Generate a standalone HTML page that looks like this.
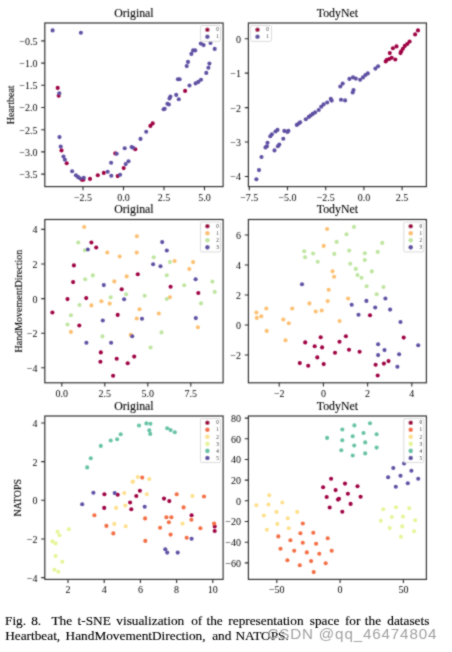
<!DOCTYPE html><html><head><meta charset="utf-8"><style>html,body{margin:0;padding:0;background:#fff;width:452px;height:652px;overflow:hidden}svg{display:block}.s{font-family:"Liberation Serif",serif;fill:#000;stroke:none}.w{font-family:"Liberation Sans",sans-serif}.c{font-family:"Liberation Serif",serif;fill:#000;stroke:#000;stroke-width:0.15px}.t{stroke:#000;stroke-width:0.12px}</style></head><body><svg width="452" height="652" viewBox="0 0 452 652"><defs><filter id="bl" x="-5%" y="-5%" width="110%" height="110%"><feConvolveMatrix order="3" kernelMatrix="1 2 1 2 10 2 1 2 1" divisor="22" edgeMode="none" preserveAlpha="false"/></filter><filter id="bl2" x="-5%" y="-5%" width="110%" height="110%"><feConvolveMatrix order="3" kernelMatrix="1 2 1 2 14 2 1 2 1" divisor="26" edgeMode="none" preserveAlpha="false"/></filter></defs><rect width="452" height="652" fill="#fff"/><g filter="url(#bl)"><g><g fill="#9e0142"><circle cx="57.7" cy="87.9" r="2.05"/><circle cx="58.7" cy="95.7" r="2.05"/><circle cx="61.5" cy="150.4" r="2.05"/><circle cx="66.7" cy="163.3" r="2.05"/><circle cx="81.8" cy="179.7" r="2.05"/><circle cx="83.4" cy="179.7" r="2.05"/><circle cx="90.0" cy="178.9" r="2.05"/><circle cx="97.8" cy="175.3" r="2.05"/><circle cx="103.8" cy="172.9" r="2.05"/><circle cx="115.3" cy="153.4" r="2.05"/><circle cx="117.7" cy="176.1" r="2.05"/><circle cx="123.7" cy="168.1" r="2.05"/><circle cx="135.3" cy="149.2" r="2.05"/><circle cx="150.4" cy="125.9" r="2.05"/><circle cx="152.7" cy="123.4" r="2.05"/><circle cx="185.1" cy="90.9" r="2.05"/></g><g fill="#5e4fa2"><circle cx="52.6" cy="30.4" r="2.05"/><circle cx="80.9" cy="32.8" r="2.05"/><circle cx="59.3" cy="93.3" r="2.05"/><circle cx="59.5" cy="137.1" r="2.05"/><circle cx="60.7" cy="146.6" r="2.05"/><circle cx="63.5" cy="156.6" r="2.05"/><circle cx="64.9" cy="159.8" r="2.05"/><circle cx="72.1" cy="171.3" r="2.05"/><circle cx="75.9" cy="175.3" r="2.05"/><circle cx="77.9" cy="176.9" r="2.05"/><circle cx="79.9" cy="178.3" r="2.05"/><circle cx="83.8" cy="177.7" r="2.05"/><circle cx="107.7" cy="171.7" r="2.05"/><circle cx="111.3" cy="175.7" r="2.05"/><circle cx="111.1" cy="162.7" r="2.05"/><circle cx="116.7" cy="153.8" r="2.05"/><circle cx="120.1" cy="174.7" r="2.05"/><circle cx="125.7" cy="164.1" r="2.05"/><circle cx="128.5" cy="161.2" r="2.05"/><circle cx="124.7" cy="148.2" r="2.05"/><circle cx="131.6" cy="147.0" r="2.05"/><circle cx="133.2" cy="147.8" r="2.05"/><circle cx="140.5" cy="138.9" r="2.05"/><circle cx="146.2" cy="131.8" r="2.05"/><circle cx="163.6" cy="109.3" r="2.05"/><circle cx="164.7" cy="108.7" r="2.05"/><circle cx="167.4" cy="103.8" r="2.05"/><circle cx="168.9" cy="104.5" r="2.05"/><circle cx="169.5" cy="98.5" r="2.05"/><circle cx="170.4" cy="96.6" r="2.05"/><circle cx="176.2" cy="94.9" r="2.05"/><circle cx="178.8" cy="99.3" r="2.05"/><circle cx="189.5" cy="85.5" r="2.05"/><circle cx="195.6" cy="83.4" r="2.05"/><circle cx="198.3" cy="81.9" r="2.05"/><circle cx="201.0" cy="79.8" r="2.05"/><circle cx="177.9" cy="79.2" r="2.05"/><circle cx="179.6" cy="79.2" r="2.05"/><circle cx="206.3" cy="72.9" r="2.05"/><circle cx="208.4" cy="67.8" r="2.05"/><circle cx="209.4" cy="63.6" r="2.05"/><circle cx="186.7" cy="66.1" r="2.05"/><circle cx="188.0" cy="61.9" r="2.05"/><circle cx="191.4" cy="53.9" r="2.05"/><circle cx="193.1" cy="50.4" r="2.05"/><circle cx="195.2" cy="50.4" r="2.05"/><circle cx="200.8" cy="43.6" r="2.05"/><circle cx="203.6" cy="45.1" r="2.05"/><circle cx="210.5" cy="43.0" r="2.05"/><circle cx="214.7" cy="48.9" r="2.05"/></g><rect x="44.80" y="23.00" width="178.30" height="163.60" fill="none" stroke="#2a2a2a" stroke-width="1.15"/><path d="M83.00 186.60v3.6M123.50 186.60v3.6M164.00 186.60v3.6M204.50 186.60v3.6M44.80 40.90h-3.6M44.80 63.10h-3.6M44.80 85.30h-3.6M44.80 107.50h-3.6M44.80 129.70h-3.6M44.80 151.90h-3.6M44.80 174.10h-3.6" stroke="#2a2a2a" stroke-width="1.1" fill="none"/><text class="s" x="83.00" y="200.50" font-size="10.0" text-anchor="middle">−2.5</text><text class="s" x="123.50" y="200.50" font-size="10.0" text-anchor="middle">0.0</text><text class="s" x="164.00" y="200.50" font-size="10.0" text-anchor="middle">2.5</text><text class="s" x="204.50" y="200.50" font-size="10.0" text-anchor="middle">5.0</text><text class="s" x="37.40" y="44.80" font-size="10.0" text-anchor="end">−0.5</text><text class="s" x="37.40" y="67.00" font-size="10.0" text-anchor="end">−1.0</text><text class="s" x="37.40" y="89.20" font-size="10.0" text-anchor="end">−1.5</text><text class="s" x="37.40" y="111.40" font-size="10.0" text-anchor="end">−2.0</text><text class="s" x="37.40" y="133.60" font-size="10.0" text-anchor="end">−2.5</text><text class="s" x="37.40" y="155.80" font-size="10.0" text-anchor="end">−3.0</text><text class="s" x="37.40" y="178.00" font-size="10.0" text-anchor="end">−3.5</text><text class="s t" x="133.95" y="16.80" font-size="11.8" text-anchor="middle">Original</text><text class="s t" transform="translate(14.20 104.80) rotate(-90)" font-size="10" text-anchor="middle">Heartbeat</text><rect x="200.50" y="25.50" width="20.00" height="15.85" rx="1.2" fill="#fff" fill-opacity="0.8" stroke="#d0d0d0" stroke-width="0.8"/><circle cx="207.40" cy="29.70" r="2.30" fill="#9e0142"/><text class="s" x="217.50" y="31.40" font-size="5.2" text-anchor="middle" style="stroke-width:0.1px">0</text><circle cx="207.40" cy="36.75" r="2.30" fill="#5e4fa2"/><text class="s" x="217.50" y="38.45" font-size="5.2" text-anchor="middle" style="stroke-width:0.1px">1</text></g><g><g fill="#9e0142"><circle cx="418.0" cy="30.4" r="2.05"/><circle cx="415.1" cy="34.4" r="2.05"/><circle cx="409.6" cy="41.6" r="2.05"/><circle cx="407.2" cy="44.0" r="2.05"/><circle cx="404.8" cy="45.9" r="2.05"/><circle cx="402.9" cy="48.8" r="2.05"/><circle cx="401.2" cy="51.2" r="2.05"/><circle cx="400.5" cy="53.1" r="2.05"/><circle cx="396.5" cy="46.4" r="2.05"/><circle cx="392.9" cy="48.3" r="2.05"/><circle cx="389.8" cy="53.1" r="2.05"/><circle cx="386.9" cy="59.8" r="2.05"/><circle cx="385.7" cy="61.4" r="2.05"/><circle cx="389.3" cy="59.0" r="2.05"/><circle cx="391.7" cy="57.8" r="2.05"/><circle cx="395.3" cy="59.5" r="2.05"/></g><g fill="#5e4fa2"><circle cx="378.1" cy="66.2" r="2.05"/><circle cx="375.4" cy="68.6" r="2.05"/><circle cx="367.8" cy="73.4" r="2.05"/><circle cx="365.4" cy="75.0" r="2.05"/><circle cx="363.0" cy="77.4" r="2.05"/><circle cx="360.1" cy="79.8" r="2.05"/><circle cx="355.8" cy="78.6" r="2.05"/><circle cx="353.0" cy="77.4" r="2.05"/><circle cx="349.4" cy="78.9" r="2.05"/><circle cx="342.7" cy="83.6" r="2.05"/><circle cx="340.3" cy="86.5" r="2.05"/><circle cx="353.5" cy="90.1" r="2.05"/><circle cx="352.7" cy="92.5" r="2.05"/><circle cx="345.1" cy="100.4" r="2.05"/><circle cx="341.0" cy="99.7" r="2.05"/><circle cx="330.8" cy="98.9" r="2.05"/><circle cx="327.2" cy="102.5" r="2.05"/><circle cx="323.6" cy="104.4" r="2.05"/><circle cx="321.2" cy="106.8" r="2.05"/><circle cx="318.7" cy="110.0" r="2.05"/><circle cx="315.1" cy="112.4" r="2.05"/><circle cx="312.7" cy="113.9" r="2.05"/><circle cx="310.7" cy="115.5" r="2.05"/><circle cx="308.8" cy="116.9" r="2.05"/><circle cx="305.8" cy="119.3" r="2.05"/><circle cx="300.2" cy="122.3" r="2.05"/><circle cx="298.8" cy="123.5" r="2.05"/><circle cx="296.8" cy="124.9" r="2.05"/><circle cx="288.4" cy="130.9" r="2.05"/><circle cx="287.4" cy="131.9" r="2.05"/><circle cx="284.3" cy="130.9" r="2.05"/><circle cx="283.3" cy="138.8" r="2.05"/><circle cx="279.3" cy="144.6" r="2.05"/><circle cx="277.9" cy="146.2" r="2.05"/><circle cx="274.5" cy="150.4" r="2.05"/><circle cx="277.5" cy="129.9" r="2.05"/><circle cx="275.5" cy="131.5" r="2.05"/><circle cx="271.9" cy="134.3" r="2.05"/><circle cx="270.3" cy="136.3" r="2.05"/><circle cx="267.5" cy="142.8" r="2.05"/><circle cx="266.9" cy="146.2" r="2.05"/><circle cx="265.5" cy="147.4" r="2.05"/><circle cx="261.5" cy="157.0" r="2.05"/><circle cx="259.0" cy="170.1" r="2.05"/><circle cx="256.4" cy="179.3" r="2.05"/><circle cx="331.7" cy="100.6" r="2.05"/></g><rect x="248.40" y="23.00" width="178.00" height="163.60" fill="none" stroke="#2a2a2a" stroke-width="1.15"/><path d="M249.30 186.60v3.6M287.50 186.60v3.6M325.70 186.60v3.6M363.90 186.60v3.6M402.10 186.60v3.6M248.40 38.70h-3.6M248.40 73.15h-3.6M248.40 107.60h-3.6M248.40 142.05h-3.6M248.40 176.50h-3.6" stroke="#2a2a2a" stroke-width="1.1" fill="none"/><text class="s" x="249.30" y="200.50" font-size="10.0" text-anchor="middle">−7.5</text><text class="s" x="287.50" y="200.50" font-size="10.0" text-anchor="middle">−5.0</text><text class="s" x="325.70" y="200.50" font-size="10.0" text-anchor="middle">−2.5</text><text class="s" x="363.90" y="200.50" font-size="10.0" text-anchor="middle">0.0</text><text class="s" x="402.10" y="200.50" font-size="10.0" text-anchor="middle">2.5</text><text class="s" x="241.00" y="42.60" font-size="10.0" text-anchor="end">0</text><text class="s" x="241.00" y="77.05" font-size="10.0" text-anchor="end">−1</text><text class="s" x="241.00" y="111.50" font-size="10.0" text-anchor="end">−2</text><text class="s" x="241.00" y="145.95" font-size="10.0" text-anchor="end">−3</text><text class="s" x="241.00" y="180.40" font-size="10.0" text-anchor="end">−4</text><text class="s t" x="337.40" y="16.80" font-size="11.8" text-anchor="middle">TodyNet</text><rect x="250.60" y="25.50" width="20.90" height="15.85" rx="1.2" fill="#fff" fill-opacity="0.8" stroke="#d0d0d0" stroke-width="0.8"/><circle cx="257.50" cy="29.70" r="2.30" fill="#9e0142"/><text class="s" x="267.60" y="31.40" font-size="5.2" text-anchor="middle" style="stroke-width:0.1px">0</text><circle cx="257.50" cy="36.75" r="2.30" fill="#5e4fa2"/><text class="s" x="267.60" y="38.45" font-size="5.2" text-anchor="middle" style="stroke-width:0.1px">1</text></g><g><g fill="#9e0142"><circle cx="91.4" cy="242.5" r="2.05"/><circle cx="96.2" cy="247.5" r="2.05"/><circle cx="73.9" cy="265.4" r="2.05"/><circle cx="73.1" cy="282.1" r="2.05"/><circle cx="121.7" cy="289.3" r="2.05"/><circle cx="67.5" cy="299.1" r="2.05"/><circle cx="86.2" cy="298.1" r="2.05"/><circle cx="52.4" cy="312.5" r="2.05"/><circle cx="117.7" cy="314.9" r="2.05"/><circle cx="79.3" cy="325.5" r="2.05"/><circle cx="100.8" cy="352.4" r="2.05"/><circle cx="100.4" cy="361.7" r="2.05"/><circle cx="116.7" cy="358.7" r="2.05"/><circle cx="127.7" cy="363.3" r="2.05"/><circle cx="134.2" cy="356.6" r="2.05"/><circle cx="113.1" cy="375.7" r="2.05"/><circle cx="137.8" cy="274.3" r="2.05"/><circle cx="170.6" cy="286.7" r="2.05"/><circle cx="198.3" cy="293.0" r="2.05"/></g><g fill="#fdbf6f"><circle cx="84.2" cy="227.0" r="2.05"/><circle cx="107.3" cy="252.5" r="2.05"/><circle cx="119.7" cy="256.5" r="2.05"/><circle cx="126.7" cy="276.4" r="2.05"/><circle cx="114.3" cy="281.4" r="2.05"/><circle cx="101.4" cy="301.2" r="2.05"/><circle cx="91.4" cy="305.4" r="2.05"/><circle cx="109.7" cy="303.6" r="2.05"/><circle cx="70.9" cy="331.9" r="2.05"/><circle cx="130.7" cy="334.8" r="2.05"/><circle cx="136.9" cy="236.2" r="2.05"/><circle cx="136.7" cy="252.6" r="2.05"/><circle cx="174.6" cy="261.0" r="2.05"/><circle cx="193.1" cy="262.1" r="2.05"/><circle cx="189.3" cy="269.0" r="2.05"/><circle cx="169.9" cy="297.3" r="2.05"/><circle cx="139.5" cy="309.3" r="2.05"/><circle cx="158.8" cy="313.5" r="2.05"/><circle cx="136.7" cy="318.5" r="2.05"/><circle cx="197.9" cy="327.2" r="2.05"/><circle cx="131.0" cy="335.0" r="2.05"/></g><g fill="#bfe5a0"><circle cx="78.3" cy="242.5" r="2.05"/><circle cx="84.8" cy="250.3" r="2.05"/><circle cx="92.8" cy="275.4" r="2.05"/><circle cx="85.2" cy="279.2" r="2.05"/><circle cx="126.1" cy="294.3" r="2.05"/><circle cx="110.7" cy="297.3" r="2.05"/><circle cx="79.5" cy="305.0" r="2.05"/><circle cx="70.9" cy="315.3" r="2.05"/><circle cx="67.5" cy="324.5" r="2.05"/><circle cx="102.4" cy="336.4" r="2.05"/><circle cx="153.7" cy="257.3" r="2.05"/><circle cx="169.9" cy="262.1" r="2.05"/><circle cx="166.8" cy="275.3" r="2.05"/><circle cx="212.4" cy="281.6" r="2.05"/><circle cx="184.2" cy="285.2" r="2.05"/><circle cx="214.7" cy="291.9" r="2.05"/><circle cx="144.7" cy="295.7" r="2.05"/><circle cx="166.8" cy="299.0" r="2.05"/><circle cx="201.0" cy="303.4" r="2.05"/><circle cx="161.5" cy="332.4" r="2.05"/><circle cx="150.6" cy="347.5" r="2.05"/></g><g fill="#5e4fa2"><circle cx="87.8" cy="249.5" r="2.05"/><circle cx="103.8" cy="285.1" r="2.05"/><circle cx="124.1" cy="299.3" r="2.05"/><circle cx="102.8" cy="320.5" r="2.05"/><circle cx="132.2" cy="336.2" r="2.05"/><circle cx="86.4" cy="342.8" r="2.05"/><circle cx="111.1" cy="342.8" r="2.05"/><circle cx="162.2" cy="242.1" r="2.05"/><circle cx="166.8" cy="250.5" r="2.05"/><circle cx="153.1" cy="264.2" r="2.05"/><circle cx="160.5" cy="266.3" r="2.05"/><circle cx="195.6" cy="279.3" r="2.05"/><circle cx="142.0" cy="318.7" r="2.05"/><circle cx="195.8" cy="318.1" r="2.05"/></g><rect x="44.80" y="219.50" width="178.30" height="163.30" fill="none" stroke="#2a2a2a" stroke-width="1.15"/><path d="M61.80 382.80v3.6M104.80 382.80v3.6M147.80 382.80v3.6M190.80 382.80v3.6M44.80 229.40h-3.6M44.80 264.00h-3.6M44.80 298.60h-3.6M44.80 333.20h-3.6M44.80 367.80h-3.6" stroke="#2a2a2a" stroke-width="1.1" fill="none"/><text class="s" x="61.80" y="396.70" font-size="10.0" text-anchor="middle">0.0</text><text class="s" x="104.80" y="396.70" font-size="10.0" text-anchor="middle">2.5</text><text class="s" x="147.80" y="396.70" font-size="10.0" text-anchor="middle">5.0</text><text class="s" x="190.80" y="396.70" font-size="10.0" text-anchor="middle">7.5</text><text class="s" x="37.40" y="233.30" font-size="10.0" text-anchor="end">4</text><text class="s" x="37.40" y="267.90" font-size="10.0" text-anchor="end">2</text><text class="s" x="37.40" y="302.50" font-size="10.0" text-anchor="end">0</text><text class="s" x="37.40" y="337.10" font-size="10.0" text-anchor="end">−2</text><text class="s" x="37.40" y="371.70" font-size="10.0" text-anchor="end">−4</text><text class="s t" x="133.95" y="213.30" font-size="11.8" text-anchor="middle">Original</text><text class="s t" transform="translate(21.80 301.15) rotate(-90)" font-size="10" text-anchor="middle">HandMovementDirection</text><rect x="200.50" y="222.00" width="20.00" height="29.95" rx="1.2" fill="#fff" fill-opacity="0.8" stroke="#d0d0d0" stroke-width="0.8"/><circle cx="207.40" cy="226.20" r="2.30" fill="#9e0142"/><text class="s" x="217.50" y="227.90" font-size="5.2" text-anchor="middle" style="stroke-width:0.1px">0</text><circle cx="207.40" cy="233.25" r="2.30" fill="#fdbf6f"/><text class="s" x="217.50" y="234.95" font-size="5.2" text-anchor="middle" style="stroke-width:0.1px">1</text><circle cx="207.40" cy="240.30" r="2.30" fill="#bfe5a0"/><text class="s" x="217.50" y="242.00" font-size="5.2" text-anchor="middle" style="stroke-width:0.1px">2</text><circle cx="207.40" cy="247.35" r="2.30" fill="#5e4fa2"/><text class="s" x="217.50" y="249.05" font-size="5.2" text-anchor="middle" style="stroke-width:0.1px">3</text></g><g><g fill="#9e0142"><circle cx="320.7" cy="337.2" r="2.05"/><circle cx="305.2" cy="342.4" r="2.05"/><circle cx="314.7" cy="346.2" r="2.05"/><circle cx="322.1" cy="347.4" r="2.05"/><circle cx="339.5" cy="341.8" r="2.05"/><circle cx="335.0" cy="352.8" r="2.05"/><circle cx="317.3" cy="357.4" r="2.05"/><circle cx="299.8" cy="363.1" r="2.05"/><circle cx="308.2" cy="365.7" r="2.05"/><circle cx="323.7" cy="364.1" r="2.05"/><circle cx="370.0" cy="315.2" r="2.05"/><circle cx="345.9" cy="336.2" r="2.05"/><circle cx="403.7" cy="337.6" r="2.05"/><circle cx="349.0" cy="349.7" r="2.05"/><circle cx="359.6" cy="351.8" r="2.05"/><circle cx="388.5" cy="361.1" r="2.05"/><circle cx="383.9" cy="363.6" r="2.05"/><circle cx="375.6" cy="364.7" r="2.05"/><circle cx="377.7" cy="375.5" r="2.05"/></g><g fill="#fdbf6f"><circle cx="327.1" cy="229.0" r="2.05"/><circle cx="323.7" cy="245.9" r="2.05"/><circle cx="332.5" cy="271.2" r="2.05"/><circle cx="334.1" cy="276.8" r="2.05"/><circle cx="328.7" cy="289.7" r="2.05"/><circle cx="327.7" cy="301.1" r="2.05"/><circle cx="309.4" cy="303.4" r="2.05"/><circle cx="266.3" cy="308.5" r="2.05"/><circle cx="292.2" cy="308.5" r="2.05"/><circle cx="256.4" cy="312.5" r="2.05"/><circle cx="261.3" cy="316.3" r="2.05"/><circle cx="256.8" cy="317.9" r="2.05"/><circle cx="315.7" cy="311.5" r="2.05"/><circle cx="321.7" cy="310.5" r="2.05"/><circle cx="283.3" cy="319.5" r="2.05"/><circle cx="288.8" cy="323.3" r="2.05"/><circle cx="339.6" cy="321.0" r="2.05"/><circle cx="266.7" cy="330.9" r="2.05"/><circle cx="285.5" cy="340.2" r="2.05"/><circle cx="348.1" cy="298.5" r="2.05"/></g><g fill="#bfe5a0"><circle cx="336.6" cy="241.9" r="2.05"/><circle cx="304.2" cy="251.3" r="2.05"/><circle cx="313.1" cy="253.5" r="2.05"/><circle cx="334.3" cy="253.9" r="2.05"/><circle cx="305.0" cy="257.2" r="2.05"/><circle cx="317.7" cy="261.8" r="2.05"/><circle cx="354.0" cy="226.9" r="2.05"/><circle cx="346.5" cy="234.2" r="2.05"/><circle cx="382.2" cy="242.9" r="2.05"/><circle cx="349.2" cy="250.6" r="2.05"/><circle cx="364.8" cy="253.3" r="2.05"/><circle cx="377.7" cy="251.9" r="2.05"/><circle cx="364.8" cy="260.0" r="2.05"/><circle cx="350.2" cy="263.7" r="2.05"/><circle cx="355.8" cy="268.9" r="2.05"/><circle cx="371.8" cy="271.4" r="2.05"/><circle cx="357.5" cy="275.1" r="2.05"/><circle cx="361.5" cy="277.8" r="2.05"/><circle cx="366.6" cy="286.2" r="2.05"/><circle cx="383.5" cy="287.0" r="2.05"/><circle cx="376.6" cy="294.3" r="2.05"/></g><g fill="#5e4fa2"><circle cx="302.0" cy="284.2" r="2.05"/><circle cx="366.4" cy="300.9" r="2.05"/><circle cx="385.4" cy="298.5" r="2.05"/><circle cx="351.7" cy="304.8" r="2.05"/><circle cx="375.2" cy="307.5" r="2.05"/><circle cx="390.1" cy="309.6" r="2.05"/><circle cx="358.5" cy="314.8" r="2.05"/><circle cx="400.5" cy="322.0" r="2.05"/><circle cx="378.1" cy="344.3" r="2.05"/><circle cx="418.2" cy="345.3" r="2.05"/><circle cx="384.5" cy="350.1" r="2.05"/><circle cx="378.1" cy="355.1" r="2.05"/><circle cx="399.1" cy="354.3" r="2.05"/><circle cx="397.4" cy="366.7" r="2.05"/></g><rect x="248.40" y="219.50" width="178.00" height="163.30" fill="none" stroke="#2a2a2a" stroke-width="1.15"/><path d="M279.20 382.80v3.6M323.40 382.80v3.6M367.60 382.80v3.6M411.80 382.80v3.6M248.40 235.00h-3.6M248.40 265.00h-3.6M248.40 295.00h-3.6M248.40 325.00h-3.6M248.40 355.00h-3.6" stroke="#2a2a2a" stroke-width="1.1" fill="none"/><text class="s" x="279.20" y="396.70" font-size="10.0" text-anchor="middle">−2</text><text class="s" x="323.40" y="396.70" font-size="10.0" text-anchor="middle">0</text><text class="s" x="367.60" y="396.70" font-size="10.0" text-anchor="middle">2</text><text class="s" x="411.80" y="396.70" font-size="10.0" text-anchor="middle">4</text><text class="s" x="241.00" y="238.90" font-size="10.0" text-anchor="end">6</text><text class="s" x="241.00" y="268.90" font-size="10.0" text-anchor="end">4</text><text class="s" x="241.00" y="298.90" font-size="10.0" text-anchor="end">2</text><text class="s" x="241.00" y="328.90" font-size="10.0" text-anchor="end">0</text><text class="s" x="241.00" y="358.90" font-size="10.0" text-anchor="end">−2</text><text class="s t" x="337.40" y="213.30" font-size="11.8" text-anchor="middle">TodyNet</text><rect x="403.80" y="222.00" width="20.00" height="29.95" rx="1.2" fill="#fff" fill-opacity="0.8" stroke="#d0d0d0" stroke-width="0.8"/><circle cx="410.70" cy="226.20" r="2.30" fill="#9e0142"/><text class="s" x="420.80" y="227.90" font-size="5.2" text-anchor="middle" style="stroke-width:0.1px">0</text><circle cx="410.70" cy="233.25" r="2.30" fill="#fdbf6f"/><text class="s" x="420.80" y="234.95" font-size="5.2" text-anchor="middle" style="stroke-width:0.1px">1</text><circle cx="410.70" cy="240.30" r="2.30" fill="#bfe5a0"/><text class="s" x="420.80" y="242.00" font-size="5.2" text-anchor="middle" style="stroke-width:0.1px">2</text><circle cx="410.70" cy="247.35" r="2.30" fill="#5e4fa2"/><text class="s" x="420.80" y="249.05" font-size="5.2" text-anchor="middle" style="stroke-width:0.1px">3</text></g><g><g fill="#9e0142"><circle cx="104.4" cy="494.3" r="2.05"/><circle cx="117.7" cy="494.7" r="2.05"/><circle cx="104.2" cy="507.9" r="2.05"/><circle cx="130.1" cy="502.5" r="2.05"/><circle cx="131.3" cy="509.3" r="2.05"/><circle cx="139.9" cy="490.8" r="2.05"/><circle cx="136.3" cy="496.0" r="2.05"/><circle cx="164.0" cy="498.6" r="2.05"/><circle cx="169.3" cy="501.1" r="2.05"/><circle cx="191.6" cy="515.2" r="2.05"/><circle cx="214.7" cy="526.4" r="2.05"/><circle cx="214.7" cy="531.0" r="2.05"/></g><g fill="#f46d43"><circle cx="94.4" cy="515.3" r="2.05"/><circle cx="106.4" cy="525.9" r="2.05"/><circle cx="113.3" cy="533.4" r="2.05"/><circle cx="142.2" cy="477.6" r="2.05"/><circle cx="176.7" cy="494.2" r="2.05"/><circle cx="204.0" cy="496.5" r="2.05"/><circle cx="183.6" cy="507.4" r="2.05"/><circle cx="145.1" cy="518.4" r="2.05"/><circle cx="166.4" cy="517.3" r="2.05"/><circle cx="171.4" cy="517.3" r="2.05"/><circle cx="168.9" cy="522.2" r="2.05"/><circle cx="191.4" cy="519.8" r="2.05"/><circle cx="160.1" cy="527.8" r="2.05"/><circle cx="200.4" cy="528.3" r="2.05"/><circle cx="214.1" cy="523.6" r="2.05"/><circle cx="170.6" cy="534.6" r="2.05"/><circle cx="186.7" cy="537.7" r="2.05"/><circle cx="145.3" cy="540.9" r="2.05"/></g><g fill="#fee08b"><circle cx="132.6" cy="481.7" r="2.05"/><circle cx="124.3" cy="493.1" r="2.05"/><circle cx="116.1" cy="507.9" r="2.05"/><circle cx="125.3" cy="505.5" r="2.05"/><circle cx="114.3" cy="523.9" r="2.05"/><circle cx="125.7" cy="526.3" r="2.05"/><circle cx="137.8" cy="477.0" r="2.05"/><circle cx="132.9" cy="481.6" r="2.05"/><circle cx="149.3" cy="479.0" r="2.05"/><circle cx="146.8" cy="494.3" r="2.05"/><circle cx="192.4" cy="496.0" r="2.05"/><circle cx="182.5" cy="523.6" r="2.05"/></g><g fill="#e6f598"><circle cx="68.9" cy="529.2" r="2.05"/><circle cx="57.5" cy="531.8" r="2.05"/><circle cx="59.5" cy="535.2" r="2.05"/><circle cx="52.4" cy="541.4" r="2.05"/><circle cx="55.6" cy="543.4" r="2.05"/><circle cx="55.6" cy="556.1" r="2.05"/><circle cx="62.3" cy="561.7" r="2.05"/><circle cx="54.4" cy="569.7" r="2.05"/><circle cx="58.3" cy="571.7" r="2.05"/></g><g fill="#66c2a5"><circle cx="120.7" cy="434.3" r="2.05"/><circle cx="117.1" cy="439.3" r="2.05"/><circle cx="110.7" cy="440.5" r="2.05"/><circle cx="100.8" cy="445.9" r="2.05"/><circle cx="90.8" cy="458.2" r="2.05"/><circle cx="87.2" cy="467.4" r="2.05"/><circle cx="139.0" cy="425.5" r="2.05"/><circle cx="146.4" cy="423.4" r="2.05"/><circle cx="150.4" cy="423.8" r="2.05"/><circle cx="149.3" cy="430.3" r="2.05"/><circle cx="150.2" cy="433.9" r="2.05"/><circle cx="167.2" cy="428.2" r="2.05"/><circle cx="170.6" cy="430.1" r="2.05"/><circle cx="174.8" cy="432.2" r="2.05"/></g><g fill="#5e4fa2"><circle cx="93.4" cy="492.7" r="2.05"/><circle cx="114.7" cy="493.1" r="2.05"/><circle cx="82.2" cy="504.3" r="2.05"/><circle cx="144.7" cy="506.8" r="2.05"/><circle cx="191.6" cy="538.8" r="2.05"/><circle cx="165.3" cy="549.3" r="2.05"/><circle cx="167.2" cy="552.6" r="2.05"/><circle cx="177.7" cy="552.6" r="2.05"/></g><rect x="44.80" y="416.00" width="178.30" height="163.40" fill="none" stroke="#2a2a2a" stroke-width="1.15"/><path d="M68.00 579.40v3.6M104.20 579.40v3.6M140.40 579.40v3.6M176.60 579.40v3.6M212.80 579.40v3.6M44.80 423.00h-3.6M44.80 461.65h-3.6M44.80 500.30h-3.6M44.80 538.95h-3.6M44.80 577.60h-3.6" stroke="#2a2a2a" stroke-width="1.1" fill="none"/><text class="s" x="68.00" y="593.30" font-size="10.0" text-anchor="middle">2</text><text class="s" x="104.20" y="593.30" font-size="10.0" text-anchor="middle">4</text><text class="s" x="140.40" y="593.30" font-size="10.0" text-anchor="middle">6</text><text class="s" x="176.60" y="593.30" font-size="10.0" text-anchor="middle">8</text><text class="s" x="212.80" y="593.30" font-size="10.0" text-anchor="middle">10</text><text class="s" x="37.40" y="426.90" font-size="10.0" text-anchor="end">4</text><text class="s" x="37.40" y="465.55" font-size="10.0" text-anchor="end">2</text><text class="s" x="37.40" y="504.20" font-size="10.0" text-anchor="end">0</text><text class="s" x="37.40" y="542.85" font-size="10.0" text-anchor="end">−2</text><text class="s" x="37.40" y="581.50" font-size="10.0" text-anchor="end">−4</text><text class="s t" x="133.95" y="409.80" font-size="11.8" text-anchor="middle">Original</text><text class="s t" transform="translate(21.20 497.70) rotate(-90)" font-size="10" text-anchor="middle">NATOPS</text><rect x="200.50" y="418.50" width="20.00" height="44.05" rx="1.2" fill="#fff" fill-opacity="0.8" stroke="#d0d0d0" stroke-width="0.8"/><circle cx="207.40" cy="422.70" r="2.30" fill="#9e0142"/><text class="s" x="217.50" y="424.40" font-size="5.2" text-anchor="middle" style="stroke-width:0.1px">0</text><circle cx="207.40" cy="429.75" r="2.30" fill="#f46d43"/><text class="s" x="217.50" y="431.45" font-size="5.2" text-anchor="middle" style="stroke-width:0.1px">1</text><circle cx="207.40" cy="436.80" r="2.30" fill="#fee08b"/><text class="s" x="217.50" y="438.50" font-size="5.2" text-anchor="middle" style="stroke-width:0.1px">2</text><circle cx="207.40" cy="443.85" r="2.30" fill="#e6f598"/><text class="s" x="217.50" y="445.55" font-size="5.2" text-anchor="middle" style="stroke-width:0.1px">3</text><circle cx="207.40" cy="450.90" r="2.30" fill="#66c2a5"/><text class="s" x="217.50" y="452.60" font-size="5.2" text-anchor="middle" style="stroke-width:0.1px">4</text><circle cx="207.40" cy="457.95" r="2.30" fill="#5e4fa2"/><text class="s" x="217.50" y="459.65" font-size="5.2" text-anchor="middle" style="stroke-width:0.1px">5</text></g><g><g fill="#9e0142"><circle cx="331.1" cy="478.7" r="2.05"/><circle cx="323.1" cy="487.3" r="2.05"/><circle cx="335.6" cy="490.1" r="2.05"/><circle cx="326.7" cy="497.0" r="2.05"/><circle cx="338.0" cy="499.6" r="2.05"/><circle cx="329.7" cy="507.5" r="2.05"/><circle cx="345.0" cy="483.6" r="2.05"/><circle cx="357.5" cy="486.3" r="2.05"/><circle cx="347.9" cy="493.8" r="2.05"/><circle cx="360.6" cy="496.8" r="2.05"/><circle cx="339.0" cy="498.8" r="2.05"/><circle cx="350.6" cy="503.9" r="2.05"/><circle cx="342.3" cy="511.8" r="2.05"/></g><g fill="#f46d43"><circle cx="302.8" cy="523.5" r="2.05"/><circle cx="300.4" cy="533.2" r="2.05"/><circle cx="313.3" cy="532.8" r="2.05"/><circle cx="327.7" cy="538.2" r="2.05"/><circle cx="278.3" cy="536.4" r="2.05"/><circle cx="290.4" cy="540.2" r="2.05"/><circle cx="302.8" cy="542.8" r="2.05"/><circle cx="316.1" cy="543.8" r="2.05"/><circle cx="280.5" cy="548.8" r="2.05"/><circle cx="294.2" cy="550.8" r="2.05"/><circle cx="306.8" cy="552.4" r="2.05"/><circle cx="319.3" cy="553.7" r="2.05"/><circle cx="331.7" cy="550.8" r="2.05"/><circle cx="287.4" cy="560.3" r="2.05"/><circle cx="311.1" cy="561.1" r="2.05"/><circle cx="325.7" cy="563.3" r="2.05"/><circle cx="299.8" cy="565.3" r="2.05"/><circle cx="313.7" cy="572.1" r="2.05"/></g><g fill="#fee08b"><circle cx="269.3" cy="495.2" r="2.05"/><circle cx="256.4" cy="505.3" r="2.05"/><circle cx="268.5" cy="504.5" r="2.05"/><circle cx="282.3" cy="502.5" r="2.05"/><circle cx="276.5" cy="511.9" r="2.05"/><circle cx="297.2" cy="511.9" r="2.05"/><circle cx="263.9" cy="515.5" r="2.05"/><circle cx="287.8" cy="518.3" r="2.05"/><circle cx="277.3" cy="523.9" r="2.05"/><circle cx="288.8" cy="528.2" r="2.05"/><circle cx="266.9" cy="529.8" r="2.05"/></g><g fill="#e6f598"><circle cx="383.3" cy="509.3" r="2.05"/><circle cx="396.0" cy="507.3" r="2.05"/><circle cx="409.3" cy="508.3" r="2.05"/><circle cx="391.8" cy="517.0" r="2.05"/><circle cx="403.0" cy="516.6" r="2.05"/><circle cx="380.8" cy="520.8" r="2.05"/><circle cx="415.1" cy="520.2" r="2.05"/><circle cx="389.7" cy="528.1" r="2.05"/><circle cx="402.2" cy="526.4" r="2.05"/><circle cx="414.1" cy="531.2" r="2.05"/><circle cx="401.0" cy="536.8" r="2.05"/></g><g fill="#66c2a5"><circle cx="327.1" cy="437.9" r="2.05"/><circle cx="370.0" cy="423.3" r="2.05"/><circle cx="354.4" cy="425.4" r="2.05"/><circle cx="342.3" cy="429.5" r="2.05"/><circle cx="363.5" cy="433.0" r="2.05"/><circle cx="352.7" cy="436.2" r="2.05"/><circle cx="376.6" cy="434.3" r="2.05"/><circle cx="342.3" cy="440.3" r="2.05"/><circle cx="365.2" cy="442.4" r="2.05"/><circle cx="354.2" cy="445.5" r="2.05"/><circle cx="376.6" cy="447.6" r="2.05"/><circle cx="341.3" cy="450.3" r="2.05"/><circle cx="352.7" cy="455.5" r="2.05"/><circle cx="365.2" cy="453.4" r="2.05"/></g><g fill="#5e4fa2"><circle cx="404.1" cy="463.4" r="2.05"/><circle cx="393.3" cy="468.0" r="2.05"/><circle cx="411.4" cy="470.7" r="2.05"/><circle cx="388.1" cy="477.3" r="2.05"/><circle cx="400.5" cy="475.7" r="2.05"/><circle cx="418.2" cy="478.8" r="2.05"/><circle cx="395.8" cy="486.7" r="2.05"/><circle cx="407.8" cy="483.2" r="2.05"/></g><rect x="248.40" y="416.00" width="178.00" height="163.40" fill="none" stroke="#2a2a2a" stroke-width="1.15"/><path d="M276.80 579.40v3.6M340.10 579.40v3.6M403.40 579.40v3.6M248.40 418.10h-3.6M248.40 438.78h-3.6M248.40 459.46h-3.6M248.40 480.14h-3.6M248.40 500.82h-3.6M248.40 521.50h-3.6M248.40 542.18h-3.6M248.40 562.86h-3.6" stroke="#2a2a2a" stroke-width="1.1" fill="none"/><text class="s" x="276.80" y="593.30" font-size="10.0" text-anchor="middle">−50</text><text class="s" x="340.10" y="593.30" font-size="10.0" text-anchor="middle">0</text><text class="s" x="403.40" y="593.30" font-size="10.0" text-anchor="middle">50</text><text class="s" x="241.00" y="422.00" font-size="10.0" text-anchor="end">80</text><text class="s" x="241.00" y="442.68" font-size="10.0" text-anchor="end">60</text><text class="s" x="241.00" y="463.36" font-size="10.0" text-anchor="end">40</text><text class="s" x="241.00" y="484.04" font-size="10.0" text-anchor="end">20</text><text class="s" x="241.00" y="504.72" font-size="10.0" text-anchor="end">0</text><text class="s" x="241.00" y="525.40" font-size="10.0" text-anchor="end">−20</text><text class="s" x="241.00" y="546.08" font-size="10.0" text-anchor="end">−40</text><text class="s" x="241.00" y="566.76" font-size="10.0" text-anchor="end">−60</text><text class="s t" x="337.40" y="409.80" font-size="11.8" text-anchor="middle">TodyNet</text><rect x="403.80" y="418.50" width="20.00" height="44.05" rx="1.2" fill="#fff" fill-opacity="0.8" stroke="#d0d0d0" stroke-width="0.8"/><circle cx="410.70" cy="422.70" r="2.30" fill="#9e0142"/><text class="s" x="420.80" y="424.40" font-size="5.2" text-anchor="middle" style="stroke-width:0.1px">0</text><circle cx="410.70" cy="429.75" r="2.30" fill="#f46d43"/><text class="s" x="420.80" y="431.45" font-size="5.2" text-anchor="middle" style="stroke-width:0.1px">1</text><circle cx="410.70" cy="436.80" r="2.30" fill="#fee08b"/><text class="s" x="420.80" y="438.50" font-size="5.2" text-anchor="middle" style="stroke-width:0.1px">2</text><circle cx="410.70" cy="443.85" r="2.30" fill="#e6f598"/><text class="s" x="420.80" y="445.55" font-size="5.2" text-anchor="middle" style="stroke-width:0.1px">3</text><circle cx="410.70" cy="450.90" r="2.30" fill="#66c2a5"/><text class="s" x="420.80" y="452.60" font-size="5.2" text-anchor="middle" style="stroke-width:0.1px">4</text><circle cx="410.70" cy="457.95" r="2.30" fill="#5e4fa2"/><text class="s" x="420.80" y="459.65" font-size="5.2" text-anchor="middle" style="stroke-width:0.1px">5</text></g></g><g filter="url(#bl2)"><text class="c" y="625.3" font-size="13.3"><tspan x="5.0">Fig.</tspan><tspan x="31.2">8.</tspan><tspan x="51.4">The</tspan><tspan x="77.6">t-SNE</tspan><tspan x="116.3">visualization</tspan><tspan x="191.2">of</tspan><tspan x="206.5">the</tspan><tspan x="228.3">representation</tspan><tspan x="309.8">space</tspan><tspan x="344.9">for</tspan><tspan x="364.8">the</tspan><tspan x="387.3">datasets</tspan></text><text class="c" y="640.1" font-size="13.3"><tspan x="5.2">Heartbeat,</tspan><tspan x="65.6">HandMovementDirection,</tspan><tspan x="212.2">and</tspan><tspan x="235.5">NATOPS.</tspan></text><text class="w" x="267.4" y="639.3" font-size="15.2" fill="#a2a2a2" textLength="169.0" lengthAdjust="spacing">CSDN @qq_46474804</text></g></svg></body></html>
